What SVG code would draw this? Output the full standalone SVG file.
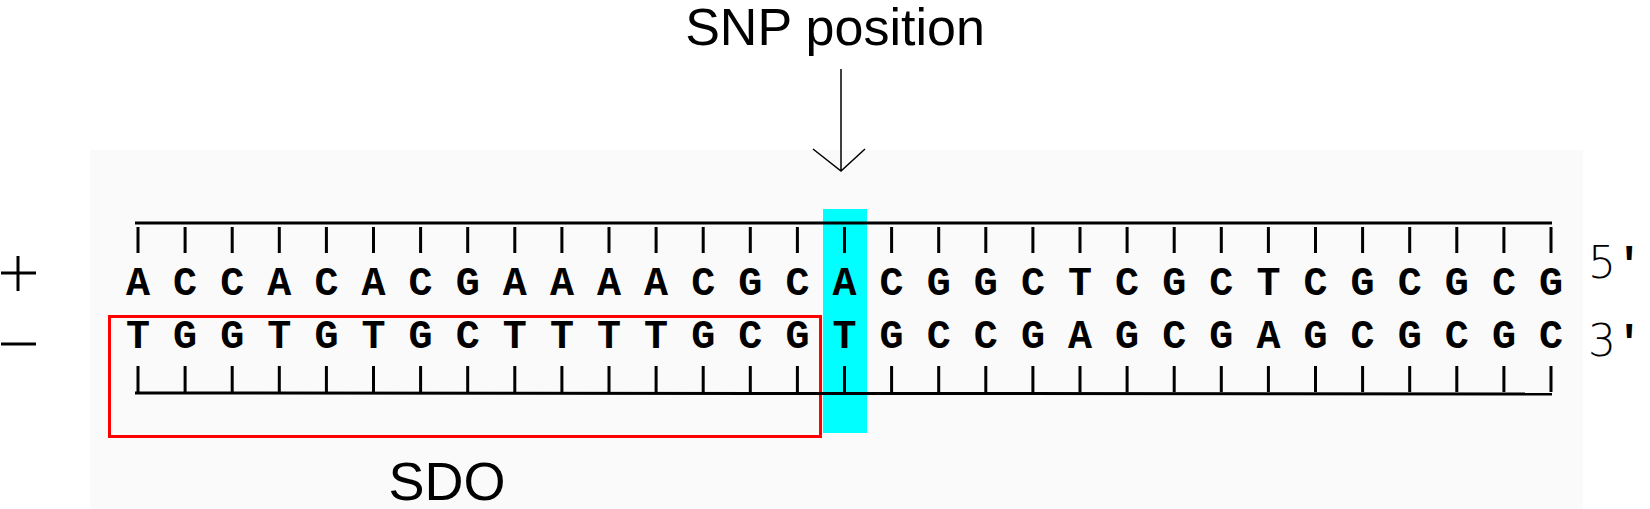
<svg xmlns="http://www.w3.org/2000/svg" width="1650" height="509" viewBox="0 0 1650 509">
<style>
.b{font-family:"Liberation Mono","Courier New",monospace;font-weight:bold;font-size:40px;text-anchor:middle;fill:#000}
.t{stroke:#000;stroke-width:3}
.s{font-family:"Liberation Sans",Arial,sans-serif;fill:#000}
.p{font-family:"DejaVu Sans",sans-serif;font-weight:200;font-size:44px;fill:#000}
</style>
<rect width="1650" height="509" fill="#fff"/>
<rect x="90" y="150" width="1493" height="359" fill="#fafafa"/>
<g id="snp-highlight"><rect x="823" y="209" width="44" height="224" fill="#00ffff"/></g>
<g id="sdo-box"><rect x="109.5" y="316.5" width="711" height="120" fill="none" stroke="#ff0000" stroke-width="3"/></g>
<g id="strands">
<line class="t" x1="135" y1="223" x2="1552" y2="223"/>
<line class="t" x1="135" y1="393" x2="1552" y2="394"/>
<path class="t" id="ticks" d="M138 227V253M185.1 227V253M232.2 227V253M279.3 227V253M326.4 227V253M373.5 227V253M420.6 227V253M467.7 227V253M514.8 227V253M561.9 227V253M609 227V253M656.1 227V253M703.2 227V253M750.3 227V253M797.4 227V253M844.5 227V253M891.6 227V253M938.7 227V253M985.8 227V253M1032.9 227V253M1080 227V253M1127.1 227V253M1174.2 227V253M1221.3 227V253M1268.4 227V253M1315.5 227V253M1362.6 227V253M1409.7 227V253M1456.8 227V253M1503.9 227V253M1551 227V253
M138 366V392M185.1 366V392M232.2 366V392M279.3 366V392M326.4 366V392M373.5 366V392M420.6 366V392M467.7 366V392M514.8 366V392M561.9 366V392M609 366V392M656.1 366V392M703.2 366V392M750.3 366V392M797.4 366V392M844.5 366V392M891.6 366V392M938.7 366V392M985.8 366V392M1032.9 366V392M1080 366V392M1127.1 366V392M1174.2 366V392M1221.3 366V392M1268.4 366V392M1315.5 366V392M1362.6 366V392M1409.7 366V392M1456.8 366V392M1503.9 366V392M1551 366V392"/>
<text class="b" y="295" x="138 185.1 232.2 279.3 326.4 373.5 420.6 467.7 514.8 561.9 609 656.1 703.2 750.3 797.4 844.5 891.6 938.7 985.8 1032.9 1080 1127.1 1174.2 1221.3 1268.4 1315.5 1362.6 1409.7 1456.8 1503.9 1551">ACCACACGAAAACGCACGGCTCGCTCGCGCG</text>
<text class="b" y="348" x="138 185.1 232.2 279.3 326.4 373.5 420.6 467.7 514.8 561.9 609 656.1 703.2 750.3 797.4 844.5 891.6 938.7 985.8 1032.9 1080 1127.1 1174.2 1221.3 1268.4 1315.5 1362.6 1409.7 1456.8 1503.9 1551">TGGTGTGCTTTTGCGTGCCGAGCGAGCGCGC</text>
</g>
<g id="labels">
<text class="s" x="835" y="45" font-size="52" text-anchor="middle">SNP position</text>
<text class="s" x="447" y="500" font-size="54" text-anchor="middle">SDO</text>
<text class="p" x="1588" y="278">5<tspan font-weight="bold" font-family="Liberation Mono, monospace">'</tspan></text>
<text class="p" x="1588" y="356">3<tspan font-weight="bold" font-family="Liberation Mono, monospace">'</tspan></text>
<path d="M1 273H36M18 256V291M1 344H36" stroke="#000" stroke-width="3"/>
</g>
<g id="connectors">
<path d="M841 69V171M813 149L841 171L865 149" fill="none" stroke="#000" stroke-width="1.5"/>
</g>
</svg>
